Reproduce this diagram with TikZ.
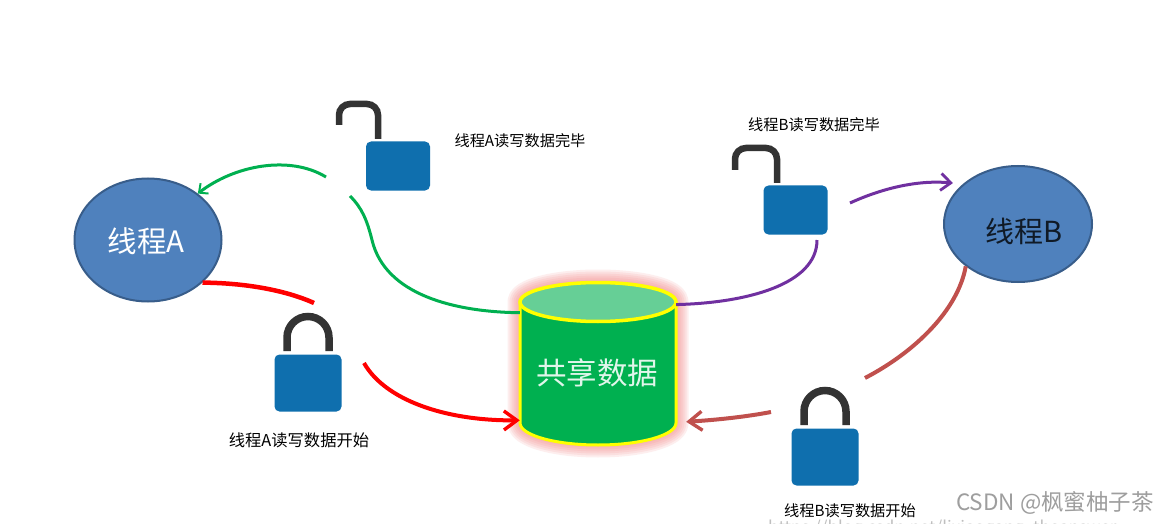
\documentclass[tikz,border=0pt]{standalone}
\usepackage{fontspec}
\setmainfont{Noto Sans CJK SC}
\usetikzlibrary{arrows.meta,shapes.geometric}
\definecolor{threadfill}{HTML}{4F81BD}
\definecolor{threadline}{HTML}{385D8A}
\definecolor{lockblue}{HTML}{0F6FAE}
\definecolor{shacklec}{HTML}{333333}
\definecolor{cylgreen}{HTML}{00B050}
\definecolor{cyltop}{HTML}{66CF96}
\definecolor{glowc}{HTML}{F58080}
\definecolor{cylline}{HTML}{FFFF00}
\definecolor{flowgreen}{HTML}{00B050}
\definecolor{flowpurple}{HTML}{7030A0}
\definecolor{flowred}{HTML}{FF0000}
\definecolor{flowbrown}{HTML}{C0504D}
\tikzset{
  thread/.style={ellipse,draw=threadline,line width=2pt,fill=threadfill,inner sep=0pt},
  lockbody/.style={draw=none,fill=lockblue,rounded corners=5pt},
  shackle/.style={draw=shacklec,line width=#1,line cap=butt},
  caption/.style={font=\fontsize{15.2}{17}\selectfont,text=black,inner sep=0pt},
  flow/.style={line width=#1,line cap=butt},
  bighead/.style={-{Straight Barb[length=13pt,width=19pt,line width=3.4pt]}},
  midhead/.style={-{Straight Barb[length=10pt,width=17pt,line width=2.8pt]}},
  smallhead/.style={-{Straight Barb[length=7pt,width=13pt,line width=2pt]}},
  glow/.style={draw=glowc,fill=glowc,line join=round,opacity=0.13,line width=#1},
}
\begin{document}
\begin{tikzpicture}[x=1pt,y=-1pt]
\useasboundingbox (0,0) rectangle (1157,524);
\fill[white] (0,0) rectangle (1157,524);

% glow behind the cylinder
\foreach \w in {25,21,17,13,9,5}{
  \path[glow=\w pt] (520,302) arc[x radius=78,y radius=20,start angle=180,end angle=360]
     -- (676,423) arc[x radius=78,y radius=22,start angle=0,end angle=180] -- cycle;
}

% threads
\node[thread,minimum width=147pt,minimum height=123pt] (threadA) at (148,240) {};
\node[thread,minimum width=148pt,minimum height=116pt] (threadB) at (1018,224) {};
\node[font=\fontsize{29.5}{32}\selectfont,text=white,inner sep=0pt] at (146,241) {线程A};
\node[font=\fontsize{29}{32}\selectfont,text=black!80!threadfill,inner sep=0pt] at (1024,231) {线程B};

% cylinder
\node[minimum width=156pt,minimum height=163pt,inner sep=0pt] (cyl) at (598,363.5) {};
\draw[cylline,line width=3pt,fill=cylgreen,line join=round] (520,302)
   -- (520,423) arc[x radius=78,y radius=22,start angle=180,end angle=0] -- (676,302) -- cycle;
\draw[cylline,line width=3.5pt,fill=cyltop] (598,302) ellipse[x radius=78,y radius=19.5];
\node[font=\fontsize{30.5}{34}\selectfont,text=white!88!cylgreen,inner sep=0pt] at (597,373) {共享数据};

% locks
\draw[shackle=6.5pt,rounded corners=11pt] (339,125) -- (339,104) -- (378,104) -- (378,139);
\node[lockbody,minimum width=64pt,minimum height=49pt] (lockAend) at (398,166) {};
\draw[shackle=6.5pt,rounded corners=11pt] (735,170) -- (735,148) -- (777,148) -- (777,183);
\node[lockbody,minimum width=64pt,minimum height=49pt] (lockBend) at (795.5,210) {};
\draw[shackle=7.5pt] (287,351) -- (287,337.5) arc[radius=21,start angle=180,end angle=360] -- (329,351);
\node[lockbody,minimum width=67pt,minimum height=57pt] (lockAstart) at (308,383) {};
\draw[shackle=7.5pt] (804,425) -- (804,411.5) arc[radius=21,start angle=180,end angle=360] -- (846,425);
\node[lockbody,minimum width=67pt,minimum height=57pt] (lockBstart) at (825,457) {};

% free ends of connectors, at the gaps round the locks
\coordinate (gA1) at (350,196);
\coordinate (gA2) at (326,177);
\coordinate (rA1) at (314,303);
\coordinate (rA2) at (364,363);
\coordinate (pB1) at (817,240);
\coordinate (pB2) at (850,203);
\coordinate (bB1) at (865,378);
\coordinate (bB2) at (771,412);

% connectors
\draw[flow=3pt,flowgreen] (cyl.147) .. controls (455,312) and (385,295) .. (372,240)
   .. controls (367,220) and (362,208) .. (gA1);
\draw[flow=3pt,flowgreen,smallhead]
   (gA2) .. controls (290,155) and (235,165) .. (threadA.43);
\draw[flow=4.5pt,flowred] (threadA.-38) .. controls (245,283) and (285,290) .. (rA1);
\draw[flow=4pt,flowred,bighead] (rA2) .. controls (385,400) and (445,421) .. (cyl.216);
\draw[flow=3pt,flowpurple] (cyl.37) .. controls (745,303) and (817,285) .. (pB1);
\draw[flow=3pt,flowpurple,midhead,shorten >=10pt]
   (pB2) .. controls (885,187) and (920,180) .. (threadB.144);
\draw[flow=4pt,flowbrown] (threadB.-141) .. controls (958,310) and (915,352) .. (bB1);
\draw[flow=4pt,flowbrown,bighead,shorten >=10pt] (bB2) .. controls (745,417) and (715,420) .. (cyl.-37);

% captions
\node[caption] (capAend) at (520,141) {线程A读写数据完毕};
\node[caption] (capBend) at (814,125) {线程B读写数据完毕};
\node[caption,font=\fontsize{16.3}{18}\selectfont] (capAstart) at (299,440) {线程A读写数据开始};
\node[caption] (capBstart) at (850,511) {线程B读写数据开始};

% watermarks
\node[anchor=west,inner sep=0pt,text=black!25,font=\fontsize{17}{19}\selectfont] (wmurl) at (768,529) {https://blog.csdn.net/lixiaogang\_theanswer};
\node[anchor=east,inner sep=0pt,text=black!38,font=\fontsize{22.5}{26}\selectfont] (wm) at (1154,503) {CSDN @枫蜜柚子茶};
\end{tikzpicture}
\end{document}
